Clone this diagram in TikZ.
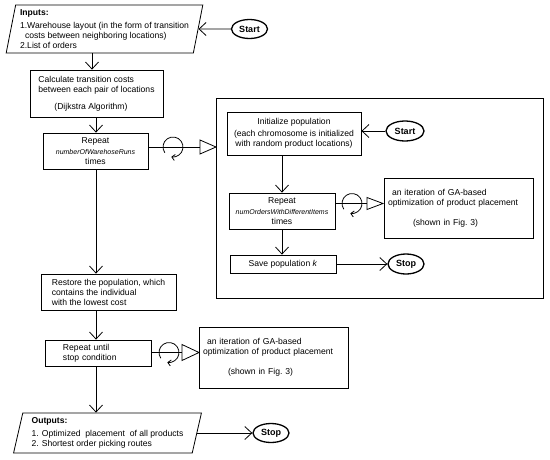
\documentclass[tikz,border=0pt]{standalone}
\usepackage{fontspec}
\setmainfont{Liberation Sans}
\usetikzlibrary{arrows.meta,shapes.geometric}
\newcommand\fsnorm{\fontsize{8.6pt}{10pt}\selectfont}
\newcommand\smallit{\fontsize{7pt}{8pt}\selectfont\itshape}
\tikzset{
  box/.style={draw, line width=0.8pt, inner sep=0pt, font=\fsnorm, align=center},
  para/.style={box, trapezium, trapezium stretches=true, align=left},
  term/.style={draw, ellipse, line width=1.3pt, inner sep=0pt, font=\fontsize{9pt}{10pt}\selectfont\bfseries},
  arr/.style={line width=0.8pt, -{Straight Barb[length=7pt,width=13pt]}},
  conn/.style={line width=0.8pt},
  looparr/.style={line width=0.8pt, -{Straight Barb[length=3pt,width=6pt]}},
  tri/.style={line width=0.8pt, fill=white}
}
\begin{document}
\begin{tikzpicture}[x=1pt,y=1pt]
\useasboundingbox (0,0) rectangle (550,-459);
% main column
\node[para, minimum width=197pt, minimum height=48pt, trapezium left angle=77, trapezium right angle=103] (inp) at (104.5,-29)
  {\textbf{Inputs:}\\[3pt]1.Warehouse layout (in the form of transition\\\hspace*{5pt}costs between neighboring locations)\\2.List of orders};
\node[term, minimum width=36pt, minimum height=19pt] (start1) at (249.5,-29) {Start};
\node[box, minimum width=133pt, minimum height=47pt, align=left] (box2) at (96.5,-93.5)
  {Calculate transition costs\\between each pair of locations\\[7pt]\hspace*{16pt}(Dijkstra Algorithm)};
\node[box, minimum width=105pt, minimum height=36pt] (rep1) at (95.5,-151)
  {Repeat\\[1pt]{\smallit numberOfWarehoseRuns}\\times};
\node[box, minimum width=135pt, minimum height=36pt, align=left] (restore) at (108.5,-292)
  {Restore the population, which\\contains\ the individual\\with the lowest cost};
\node[box, minimum width=106pt, minimum height=26pt, text width=70pt, align=left] (until) at (98,-353)
  {Repeat until\\stop condition};
\node[para, minimum width=188pt, minimum height=40pt, trapezium left angle=75, trapezium right angle=105] (outp) at (107.5,-433)
  {\textbf{Outputs:}\\[3pt]1. Optimized\ \ placement\ \ of all products\\2. Shortest order picking routes};
\node[term, minimum width=36pt, minimum height=19pt] (stop1) at (271,-433) {Stop};
% sub-procedure container
\node[draw, line width=0.8pt, minimum width=327pt, minimum height=200pt, inner sep=0pt] (sub) at (379.5,-198) {};
\node[box, minimum width=134pt, minimum height=43pt] (init) at (294,-133.5)
  {Initialize population\\[2pt](each chromosome is initialized\\with random product locations)};
\node[term, minimum width=38pt, minimum height=20pt] (start2) at (405,-131) {Start};
\node[box, minimum width=106pt, minimum height=36pt] (rep2) at (282,-211)
  {Repeat\\[1pt]{\smallit numOrdersWithDifferentItems}\\times};
\node[box, minimum height=60pt, text width=141pt, inner xsep=4pt, align=left] (iter2) at (458.5,-208)
  {\hspace*{4pt}an iteration of GA-based\\optimization of product placement\\[10pt]\hspace*{25pt}(shown in Fig.\ 3)};
\node[box, minimum width=106pt, minimum height=18pt] (save) at (283,-264) {Save population \textit{k}};
\node[term, minimum width=36pt, minimum height=20pt] (stop2) at (406,-264) {Stop};
\node[box, minimum height=61pt, text width=141pt, inner xsep=4pt, align=left] (iter3) at (273.5,-357.5)
  {\hspace*{4pt}an iteration of GA-based\\optimization of product placement\\[10pt]\hspace*{25pt}(shown in Fig.\ 3)};
% helper coordinates
\coordinate (sp1) at (92,0);
\coordinate (sp) at (96,0);
\coordinate (c1) at (173,-147);
\coordinate (t1) at (200,-147);
\coordinate (c2) at (352,-203.5);
\coordinate (t2) at (367,-203.5);
\coordinate (c3) at (169,-352.5);
\coordinate (t3) at (182,-352.5);
% main arrows
\draw[arr] (start1.west) -- (inp.east);
\draw[arr] (inp.south -| sp1) -- (box2.north -| sp1);
\draw[arr] (box2.south -| sp) -- (rep1.north -| sp);
\draw[arr] (rep1.south -| sp) -- (restore.north -| sp);
\draw[arr] (restore.south -| sp) -- (until.north -| sp);
\draw[arr] (until.south -| sp) -- (outp.north -| sp);
\draw[arr] (outp.east) -- (outp.east -| stop1.west);
% inner arrows
\draw[arr] (start2.west) -- (start2.west -| init.east);
\draw[arr] (init.south -| rep2) -- (rep2.north);
\draw[arr] (rep2.south) -- (save.north -| rep2);
\draw[arr] (save.east) -- (stop2.west);
% loop 1
\draw[conn] (t1 -| rep1.east) -- (t1);
\draw[looparr] (c1) ++(215:10pt) arc[start angle=215, end angle=-100, radius=10pt];
\draw[tri] (t1) -- ++(0,7) -- ++(16,-7) -- ++(-16,-7) -- cycle;
% loop 2
\draw[conn] (t2 -| rep2.east) -- (t2);
\draw[looparr] (c2) ++(215:10pt) arc[start angle=215, end angle=-100, radius=10pt];
\draw[tri] (t2) -- ++(0,6) -- ++(16,-6) -- ++(-16,-6) -- cycle;
% loop 3
\draw[conn] (t3 -| until.east) -- (t3);
\draw[looparr] (c3) ++(215:10pt) arc[start angle=215, end angle=-100, radius=10pt];
\draw[tri] (t3) -- ++(0,8) -- ++(17,-8) -- ++(-17,-8) -- cycle;
\end{tikzpicture}
\end{document}
